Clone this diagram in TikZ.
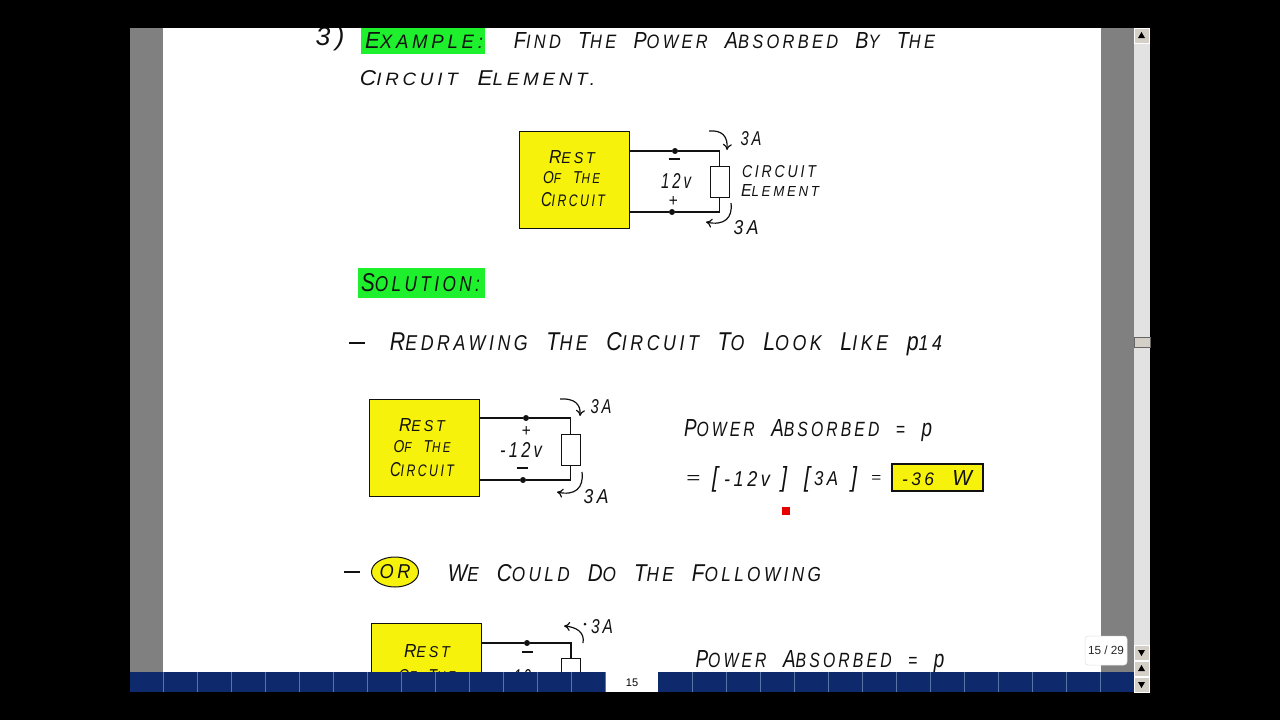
\documentclass[tikz,border=0pt]{standalone}
\usepackage{graphicx}
\usepackage{fontspec}
\setmainfont{Liberation Sans}[LetterSpace=20,WordSpace=2.2]
\newfontfamily\uifont{Liberation Sans}
\usetikzlibrary{arrows.meta,shapes.geometric}
\definecolor{hlyellow}{HTML}{F7F20C}
\definecolor{hlgreen}{HTML}{1FF02E}
\definecolor{barblue}{HTML}{0E2A6C}
\definecolor{tickblue}{HTML}{5A74A8}
\definecolor{sidegray}{HTML}{808080}
\definecolor{trackgray}{HTML}{E2E2E2}
\definecolor{btngray}{HTML}{D4D0C8}
\definecolor{inkk}{HTML}{111111}
\newcommand{\hw}[3]{\resizebox{#1pt}{#2pt}{\itshape #3}}
\newcommand{\Ic}[1]{{\fontsize{12}{12}\selectfont #1}}
\tikzset{
  hand/.style={inner sep=0pt,outer sep=0pt,text=inkk},
  restbox/.style={draw=inkk,line width=1pt,fill=hlyellow,minimum width=110pt,minimum height=97pt,inner sep=0pt},
  elembox/.style={draw=inkk,line width=0.9pt,fill=white,minimum width=19pt,minimum height=31pt,inner sep=0pt},
  wire/.style={draw=inkk,line width=1.1pt},
  jdot/.style={circle,fill=inkk,minimum size=6pt,inner sep=0pt},
  curarrow/.style={draw=inkk,line width=1.2pt,-{To[length=6pt,width=9pt]}},
  btn/.style={fill=btngray,draw=white,line width=0.4pt,minimum width=15pt,minimum height=15pt,inner sep=0pt},
  btnglyph/.style={fill=black,draw=none,regular polygon,regular polygon sides=3,inner sep=0pt,minimum size=8pt}
}
\begin{document}
\begin{tikzpicture}[x=1pt,y=-1pt]
\useasboundingbox (0,0) rectangle (1280,720);
\fill[black] (0,0) rectangle (1280,720);
\fill[white] (163,28) rectangle (1101,672);
\fill[sidegray] (130,28) rectangle (163,692);
\fill[sidegray] (1101,28) rectangle (1134,692);
\fill[trackgray] (1134,28) rectangle (1150,692);

\begin{scope}
\clip (163,28) rectangle (1101,672);
% heading
\node[hand] (n3) at (330,39) {\hw{29}{19}{3)}};
\fill[hlgreen] (361,28) rectangle (485,54);
\node[hand] (ex) at (424,40) {\hw{118}{16}{\Ic{E}XAMPLE:}};
\node[hand] (find) at (724.5,41) {\hw{421}{16}{\Ic{F}IND \Ic{T}HE \Ic{P}OWER \Ic{A}BSORBED \Ic{B}Y \Ic{T}HE}};
\node[hand] (celem) at (477.5,78.5) {\hw{235}{15}{\Ic{C}IRCUIT \Ic{E}LEMENT.}};

% circuit 1
\node[restbox] (box1) at (574,179.5) {};
\node[hand] (a1) at (572,157) {\hw{46}{13}{\Ic{R}EST}};
\node[hand] (b1) at (571.5,178) {\hw{57}{12}{\Ic{O}F \Ic{T}HE}};
\node[hand] (c1) at (573,200) {\hw{64}{14}{\Ic{C}IRCUIT}};
\node[jdot] (t1) at (675,151) {};
\node[jdot] (u1) at (672,212) {};
\node[elembox] (e1) at (719.5,181.5) {};
\draw[wire] (box1.east |- t1) -- (t1) -- (e1.north |- t1) -- (e1.north);
\draw[wire] (box1.east |- u1) -- (u1) -- (e1.south |- u1) -- (e1.south);
\node[hand] (m1) at (674,159) {\hw{11}{1.3}{\rule{1em}{.1em}}};
\node[hand] (v1) at (676,180.5) {\hw{30}{15}{12v}};
\node[hand] (p1) at (673,201) {\hw{9}{10}{+}};
\coordinate (s1) at (709,131);
\coordinate (f1) at (727,150);
\draw[curarrow] (s1) .. controls (722,130) and (728,136) .. (f1);
\coordinate (s1b) at (731,203);
\coordinate (f1b) at (706,222);
\draw[curarrow] (s1b) .. controls (733,218) and (724,226) .. (f1b);
\node[hand] (i1) at (751,139) {\hw{21}{14}{3A}};
\node[hand] (i1b) at (746,228) {\hw{25}{14}{3A}};
\node[hand] (ce1) at (779,172) {\hw{74}{12}{CIRCUIT}};
\node[hand] (ce2) at (780,190) {\hw{78}{12}{\Ic{E}LEMENT}};

% solution
\fill[hlgreen] (358,268) rectangle (485,298);
\node[hand] (sol) at (420.5,282.5) {\hw{119}{18}{\Ic{S}OLUTION:}};
\node[hand] (dash1) at (357,343) {\hw{16}{1.5}{\rule{1em}{.1em}}};
\node[hand] (redraw) at (666,344.5) {\hw{552}{18}{\Ic{R}EDRAWING \Ic{T}HE \Ic{C}IRCUIT \Ic{T}O \Ic{L}OOK \Ic{L}IKE \Ic{p}14}};

% circuit 2
\node[restbox] (box2) at (424.5,447.5) {};
\node[hand] (a2) at (422,425) {\hw{46}{13}{\Ic{R}EST}};
\node[hand] (b2) at (422,447) {\hw{57}{12}{\Ic{O}F \Ic{T}HE}};
\node[hand] (c2) at (422,470) {\hw{64}{14}{\Ic{C}IRCUIT}};
\node[jdot] (t2) at (526,418) {};
\node[jdot] (u2) at (523,480) {};
\node[elembox] (e2) at (570.5,450) {};
\draw[wire] (box2.east |- t2) -- (t2) -- (e2.north |- t2) -- (e2.north);
\draw[wire] (box2.east |- u2) -- (u2) -- (e2.south |- u2) -- (e2.south);
\node[hand] (p2) at (526,431) {\hw{9}{10}{+}};
\node[hand] (v2) at (521,449.5) {\hw{42}{15}{-12v}};
\node[hand] (m2) at (522,468) {\hw{11}{1.3}{\rule{1em}{.1em}}};
\coordinate (s2) at (560,399);
\coordinate (f2) at (580,416);
\draw[curarrow] (s2) .. controls (574,398) and (581,404) .. (f2);
\coordinate (s2b) at (582,472);
\coordinate (f2b) at (557,492);
\draw[curarrow] (s2b) .. controls (584,488) and (575,496) .. (f2b);
\node[hand] (i2) at (601,407) {\hw{21}{14}{3A}};
\node[hand] (i2b) at (596,497) {\hw{25}{14}{3A}};

% power equation
\node[hand] (pa) at (808,431) {\hw{248}{17}{\Ic{P}OWER \Ic{A}BSORBED = \Ic{p}}};
\node[hand] (eq0) at (693,479) {\hw{14}{8}{=}};
\node[hand] (br1) at (715,479) {\hw{6}{20}{[}};
\node[hand] (val1) at (747,479) {\hw{46}{15}{-12v}};
\node[hand] (br2) at (784,479) {\hw{6}{20}{]}};
\node[hand] (br3) at (807,479) {\hw{6}{20}{[}};
\node[hand] (val2) at (826,479) {\hw{24}{14}{3A}};
\node[hand] (br4) at (854,479) {\hw{6}{20}{]}};
\node[hand] (eq1) at (876,479) {\hw{10}{7}{=}};
\node[draw=inkk,line width=1.2pt,fill=hlyellow,minimum width=91pt,minimum height=27pt,inner sep=0pt] (ans) at (937.5,477.5) {};
\node[hand] (ansT) at (937,478) {\hw{70}{15}{-36 \Ic{W}}};
\fill[red!90!black] (782,507) rectangle (790,515);

% OR row
\node[hand] (dash2) at (352,572) {\hw{16}{1.5}{\rule{1em}{.1em}}};
\node[ellipse,draw=inkk,line width=1pt,fill=hlyellow,minimum width=47pt,minimum height=30pt,inner sep=0pt] (orE) at (395,572) {};
\node[hand] (orT) at (395,572) {\hw{31}{14}{OR}};
\node[hand] (could) at (634.5,573.5) {\hw{373}{17}{\Ic{W}E \Ic{C}OULD \Ic{D}O \Ic{T}HE \Ic{F}OLLOWING}};

% circuit 3 (cut by bar)
\node[restbox] (box3) at (426,671.5) {};
\node[hand] (a3) at (427,651) {\hw{46}{13}{\Ic{R}EST}};
\node[hand] (b3) at (427,676) {\hw{57}{12}{\Ic{O}F \Ic{T}HE}};
\node[jdot] (t3) at (527,643) {};
\node[elembox] (e3) at (571,673.5) {};
\draw[wire] (box3.east |- t3) -- (t3) -- (e3.north |- t3) -- (e3.north);
\node[hand] (m3) at (527,652) {\hw{11}{1.3}{\rule{1em}{.1em}}};
\node[hand] (v3) at (527,676) {\hw{26}{14}{12v}};
\coordinate (s3) at (583,643);
\coordinate (f3) at (564,626);
\draw[curarrow] (s3) .. controls (585,632) and (576,627) .. (f3);
\node[jdot,minimum size=3pt] (d3) at (585,624) {};
\node[hand] (i3) at (602,627) {\hw{22}{14}{3A}};
\node[hand] (pa3) at (820,662) {\hw{249}{17}{\Ic{P}OWER \Ic{A}BSORBED = \Ic{p}}};
\end{scope}

% bottom bar
\fill[barblue] (130,672) rectangle (606,692);
\fill[barblue] (658,672) rectangle (1134,692);
\foreach \x in {163,197,...,605}{\draw[tickblue,line width=0.6pt] (\x,672) -- (\x,692);}
\foreach \x in {692,726,...,1100}{\draw[tickblue,line width=0.6pt] (\x,672) -- (\x,692);}
\fill[white] (606,672) rectangle (658,692);
\node[inner sep=0pt,text=black,font=\uifont\fontsize{11}{13}\selectfont] (pg) at (632,683) {15};

% scrollbar buttons
\node[btn] (up) at (1141.5,35.5) {};
\node[btnglyph] at (1141.5,36) {};
\node[btn,minimum width=16pt,minimum height=10pt,draw=black!60] (thumb) at (1142,342) {};
\node[btn] (dn) at (1141.5,652.5) {};
\node[btnglyph,shape border rotate=180] at (1141.5,652) {};
\node[btn] (pu) at (1141.5,668.5) {};
\node[btnglyph] at (1141.5,669) {};
\node[btn] (pd) at (1141.5,684.5) {};
\node[btnglyph,shape border rotate=180] at (1141.5,684) {};

% page pill
\node[rounded corners=3pt,fill=white,draw=black!12,line width=0.5pt,minimum width=42pt,minimum height=29pt,inner sep=0pt,text=black!85,font=\uifont\fontsize{12}{14}\selectfont] (pill) at (1106,650.5) {\resizebox{36pt}{!}{15 / 29}};
\end{tikzpicture}
\end{document}
